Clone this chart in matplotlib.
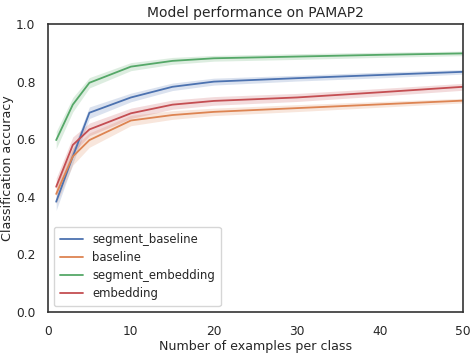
import numpy as np
import matplotlib
matplotlib.use('Agg')
import matplotlib.pyplot as plt
import seaborn as sns

sns.set_theme(style='white')
plt.rcParams['font.family'] = ['DejaVu Sans']

shots = [1, 3, 5, 10, 15, 20, 30, 40, 50]

segment_baseline = [0.383, 0.54, 0.692, 0.745, 0.782, 0.80, 0.812, 0.823, 0.834]
baseline = [0.41, 0.54, 0.597, 0.665, 0.684, 0.695, 0.708, 0.721, 0.734]
segment_embedding = [0.597, 0.72, 0.796, 0.852, 0.872, 0.881, 0.887, 0.893, 0.898]
embedding = [0.435, 0.58, 0.634, 0.69, 0.72, 0.733, 0.745, 0.763, 0.782]

segment_baseline_err = [0.03, 0.025, 0.02, 0.015, 0.013, 0.012, 0.01, 0.01, 0.008]
baseline_err = [0.035, 0.03, 0.025, 0.018, 0.015, 0.013, 0.012, 0.01, 0.008]
segment_embedding_err = [0.03, 0.025, 0.018, 0.014, 0.012, 0.01, 0.01, 0.009, 0.008]
embedding_err = [0.03, 0.028, 0.022, 0.018, 0.016, 0.015, 0.014, 0.013, 0.012]

series = [
    ('segment_baseline', segment_baseline, segment_baseline_err),
    ('baseline', baseline, baseline_err),
    ('segment_embedding', segment_embedding, segment_embedding_err),
    ('embedding', embedding, embedding_err),
]

colors = sns.color_palette('deep')

fig = plt.figure(figsize=(4.74, 3.53), dpi=100)
ax = fig.add_axes([0.101, 0.116, 0.876, 0.816])

x = np.array(shots)
for i, (name, vals, err) in enumerate(series):
    vals = np.array(vals)
    err = np.array(err)
    ax.plot(x, vals, color=colors[i], label=name, linewidth=1.3)
    ax.fill_between(x, vals - err, vals + err, color=colors[i], alpha=0.2, linewidth=0)

ax.set_xlim(0, 50)
ax.set_ylim(0, 1.0)
ax.set_xticks([0, 10, 20, 30, 40, 50])
ax.set_yticks([0.0, 0.2, 0.4, 0.6, 0.8, 1.0])
ax.tick_params(labelsize=8.8, pad=3)
ax.set_xlabel('Number of examples per class', fontsize=9.1, labelpad=2)
ax.set_ylabel('Classification accuracy', fontsize=9.1, labelpad=1)
ax.set_title('Model performance on PAMAP2', fontsize=10, pad=5)
ax.legend(loc='lower left', fontsize=8.4, handlelength=2.0, borderpad=0.5,
          labelspacing=0.45)
for s in ax.spines.values():
    s.set_color('#333333')
    s.set_linewidth(1.2)

plt.savefig('out.png', dpi=100)
